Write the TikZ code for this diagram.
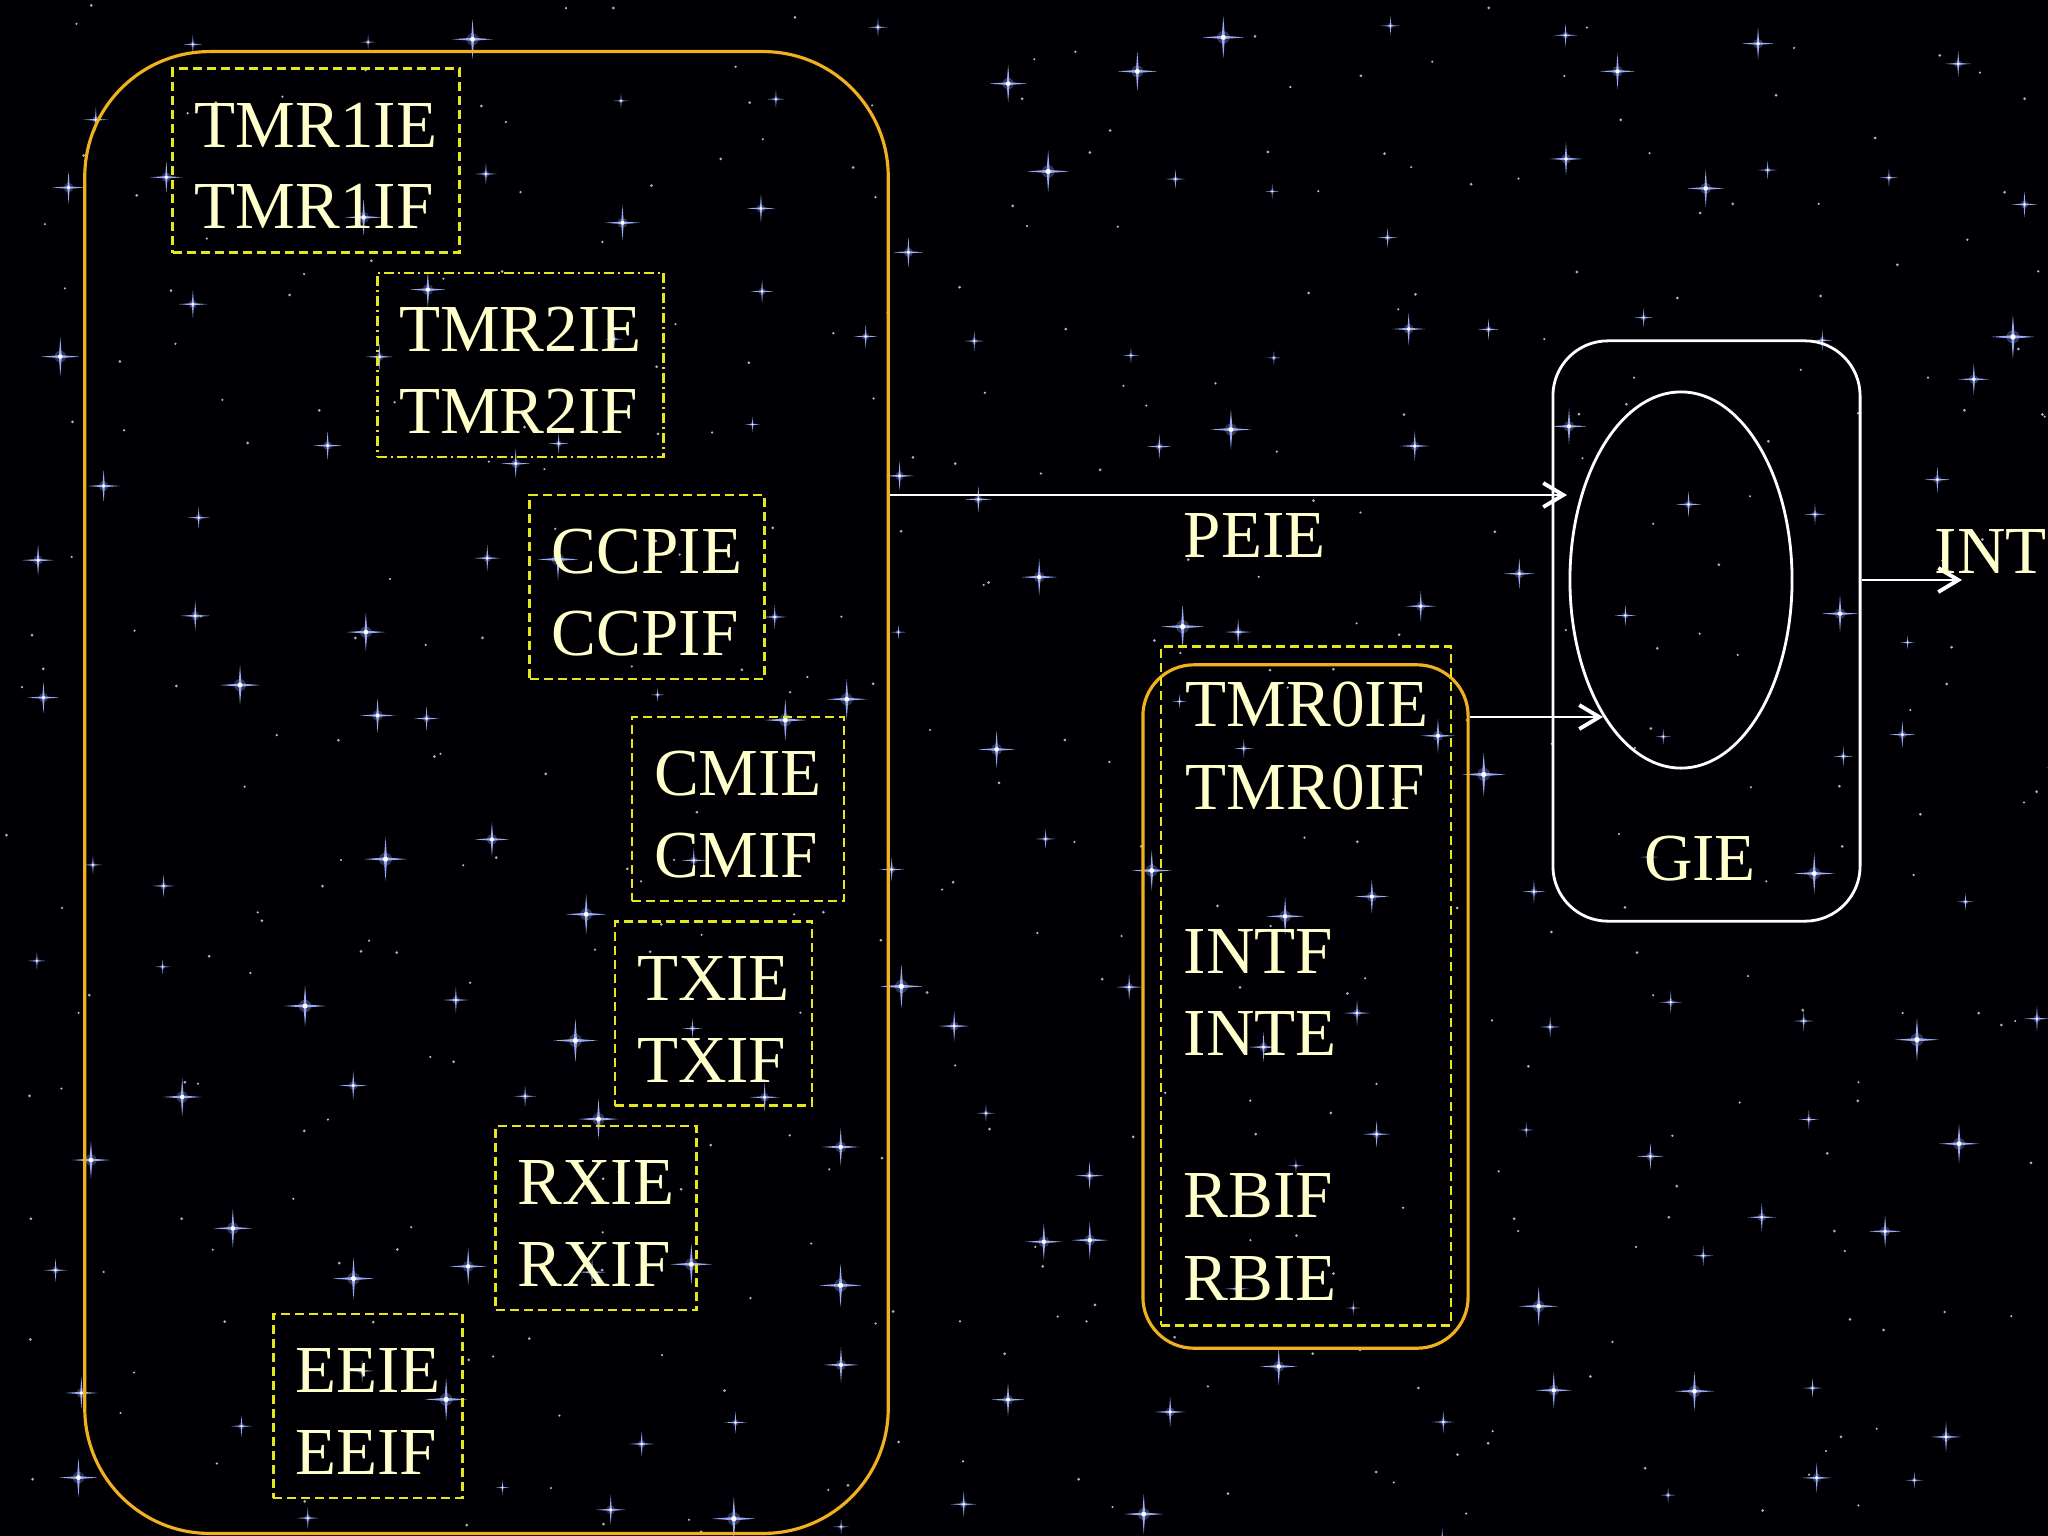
\documentclass[tikz,border=0pt]{standalone}
\usepackage{fontspec}
\setmainfont{Liberation Serif}
\usetikzlibrary{arrows.meta,shapes.geometric}
\definecolor{bg}{HTML}{000004}
\definecolor{orng}{HTML}{F0B020}
\definecolor{dashy}{HTML}{E6E61E}
\definecolor{cream}{HTML}{FFFFCC}
\definecolor{starb}{HTML}{9AAAF8}
\begin{document}
\begin{tikzpicture}[x=0.01cm,y=-0.01cm,
  lbl/.style={text=cream,inner sep=0pt,font=\fontsize{19.1pt}{23.3pt}\selectfont},
  regbox/.style={lbl,draw=dashy,line width=0.75pt,dash pattern=on 0.09cm off 0.05cm,align=left,minimum height=1.84cm,inner xsep=0.22cm,inner ysep=0pt},
  dashdot/.style={dash pattern=on 0.1cm off 0.04cm on 0.02cm off 0.04cm},
  group/.style={draw=orng,line width=0.9pt,rounded corners=#1,inner sep=0pt},
  whitebox/.style={draw=white,line width=0.8pt,inner sep=0pt},
  wire/.style={draw=white,line width=0.8pt,-{Straight Barb[length=0.2cm,width=0.24cm,line width=1.1pt]}},
  sparkle/.pic={
    \fill[starb,opacity=0.3] (0,0) circle (0.3);
    \fill[starb] (-1,0) -- (-0.07,0.07) -- (0,1) -- (0.07,0.07) -- (1,0) -- (0.07,-0.07) -- (0,-1) -- (-0.07,-0.07) -- cycle;
    \fill[white] (0,0) circle (0.12);
  }
]
\useasboundingbox (0,0) rectangle (2048,1536);
\fill[bg] (0,0) rectangle (2048,1536);

% starfield
\pgfmathsetseed{11}
\foreach \i in {0,...,15}{
  \foreach \j in {0,...,11}{
    \pgfmathsetmacro\sx{\i*132+30+rnd*100}
    \pgfmathsetmacro\sy{\j*132+25+rnd*100}
    \pgfmathsetmacro\ss{7+rnd*15}
    \pic[scale=\ss] at (\sx,\sy) {sparkle};
    \pgfmathsetmacro\dx{\i*132+rnd*132}
    \pgfmathsetmacro\dy{\j*132+rnd*132}
    \fill[gray!60] (\dx,\dy) circle (1.5);
    \pgfmathsetmacro\ex{\i*132+rnd*132}
    \pgfmathsetmacro\ey{\j*132+rnd*132}
    \fill[gray!50] (\ex,\ey) circle (1.2);
  }
}

% left group
\node[group=1.25cm,minimum width=8.03cm,minimum height=14.81cm] (big) at (486.5,792.5) {};
\node[regbox] (b1) at (316,160.5) {\rule{0pt}{0.55cm}TMR1IE\\TMR1IF};
\node[regbox,dashdot] (b2) at (520.5,365) {\rule{0pt}{0.55cm}TMR2IE\\TMR2IF};
\node[regbox] (b3) at (647,587) {\rule{0pt}{0.55cm}CCPIE\\CCPIF};
\node[regbox] (b4) at (738,809) {\rule{0pt}{0.55cm}CMIE\\CMIF};
\node[regbox] (b5) at (713.5,1013.5) {\rule{0pt}{0.55cm}TXIE\\TXIF};
\node[regbox] (b6) at (596,1218) {\rule{0pt}{0.55cm}RXIE\\RXIF};
\node[regbox] (b7) at (368,1406) {\rule{0pt}{0.55cm}EEIE\\EEIF};

% small group
\node[group=0.51cm,minimum width=3.25cm,minimum height=6.83cm] (sbox) at (1305.5,1006.5) {};
\node[draw=dashy,line width=0.75pt,dash pattern=on 0.09cm off 0.05cm,inner sep=0pt,minimum width=2.90cm,minimum height=6.78cm] (sdash) at (1306,986) {};
\node[lbl,anchor=base west] (t1) at (1185,726) {TMR0IE};
\node[lbl,anchor=base west] (t2) at (1185,809) {TMR0IF};
\node[lbl,anchor=base west] (t3) at (1183,973) {INTF};
\node[lbl,anchor=base west] (t4) at (1183,1055) {INTE};
\node[lbl,anchor=base west] (t5) at (1183,1217) {RBIF};
\node[lbl,anchor=base west] (t6) at (1183,1300) {RBIE};

% GIE
\node[whitebox,rounded corners=0.55cm,minimum width=3.07cm,minimum height=5.8cm] (giebox) at (1706.5,631) {};
\node[whitebox,ellipse,minimum width=2.22cm,minimum height=3.76cm] (ell) at (1681,580) {};
\node[lbl,anchor=base] (gie) at (1700,880) {GIE};

% connectors
\coordinate (pa) at (0,495);
\coordinate (pt) at (1567,495);
\draw[wire] (big.east |- pa) -- (pt);
\node[lbl,anchor=base west] (peie) at (1183,557) {PEIE};

\coordinate (ta) at (0,717);
\coordinate (tt) at (1603,717);
\draw[wire] (sbox.east |- ta) -- (tt);

\coordinate (ia) at (0,580);
\coordinate (it) at (1962,580);
\draw[wire] (giebox.east |- ia) -- (it);
\node[lbl,anchor=base west] (int) at (1934,573) {INT};
\end{tikzpicture}
\end{document}
